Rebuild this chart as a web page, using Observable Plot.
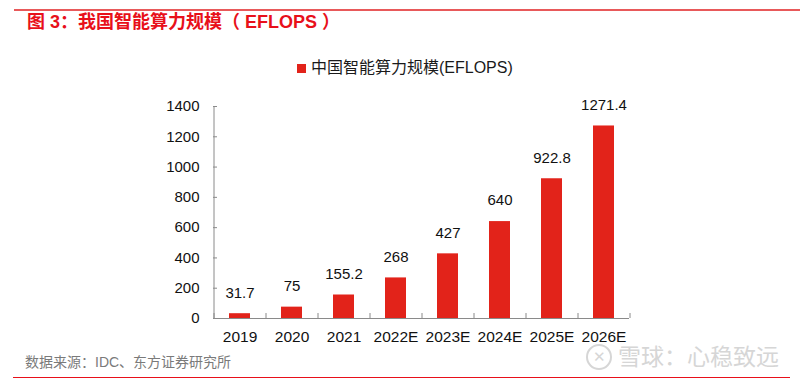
<!DOCTYPE html>
<html><head><meta charset="utf-8">
<script src="https://cdn.jsdelivr.net/npm/d3@7"></script>
<script src="https://cdn.jsdelivr.net/npm/@observablehq/plot@0.6"></script>
<style>
html,body{margin:0;padding:0;background:#fff;}
#wrap{position:relative;width:800px;height:382px;overflow:hidden;font-family:"Liberation Sans","Noto Sans CJK SC",sans-serif;}
.abs{position:absolute;white-space:nowrap;}
#topline{left:14px;top:9px;width:786px;height:2px;background:#e8595a;}
#title{left:27px;top:12px;font-size:18px;font-weight:bold;color:#e8101a;line-height:21px;}
#legend{left:297px;top:58px;font-size:16px;color:#1a1a1a;line-height:20px;display:flex;align-items:center;}
#legend span.sw{display:inline-block;width:9px;height:9px;background:#e2231a;margin-right:5px;}
#chart{left:0;top:90px;}
#source{left:25px;top:353px;font-size:14px;color:#7a7a7a;line-height:18px;}
#bottomline{left:13px;top:377px;width:777px;height:1px;background:#e8101a;}
#wm{left:586px;top:343px;font-size:23px;color:#d6d6d6;line-height:28px;display:flex;align-items:center;}
#wm .logo{display:inline-block;width:22px;height:22px;border:2px solid #d6d6d6;border-radius:50%;margin-right:6px;font-size:15px;line-height:22px;text-align:center;}
</style></head>
<body><div id="wrap">
<div class="abs" id="topline"></div>
<div class="abs" id="title">图 3：我国智能算力规模（ EFLOPS ）</div>
<div class="abs" id="legend"><span class="sw"></span><span id="legtext"></span></div>
<div class="abs" id="chart"></div>
<div class="abs" id="source">数据来源：IDC、东方证券研究所</div>
<div class="abs" id="wm"><span class="logo">✕</span>雪球：心稳致远</div>
<div class="abs" id="bottomline"></div>
</div>
<script>
const years = ["2019","2020","2021","2022E","2023E","2024E","2025E","2026E"];
const values = [31.7, 75, 155.2, 268, 427, 640, 922.8, 1271.4];
const valueLabels = ["31.7","75","155.2","268","427","640","922.8","1271.4"];
const yTicks = [0,200,400,600,800,1000,1200,1400];
const seriesName = "中国智能算力规模(EFLOPS)";

document.getElementById("legtext").textContent = seriesName;

const data = years.map((y,i)=>({year:y, value:values[i], label:valueLabels[i]}));

const W = 800, H = 260, ML = 213, MR = 171, MT = 16, MB = 32;
const step = (W - ML - MR) / years.length;
const axisColor = "#8a8a8a";

const plot = Plot.plot({
  width: W, height: H,
  marginLeft: ML, marginRight: MR, marginTop: MT, marginBottom: MB,
  style: {fontFamily: "'Liberation Sans','Noto Sans CJK SC',sans-serif", fontSize: "15px", color: "#111", background: "#fff"},
  x: {domain: years, paddingInner: 0.6, paddingOuter: 0.3, label: null},
  y: {domain: [0,1400], label: null},
  marks: [
    Plot.barY(data, {x: "year", y: "value", fill: "#e2231a"}),
    Plot.text(data, {x: "year", y: "value", text: "label", dy: -21, fontSize: 15, fill: "#111"}),
    Plot.axisY({ticks: yTicks, tickSize: 0, tickPadding: 14, fontSize: 15, fill: "#111", tickFormat: d => String(d)}),
    Plot.ruleY(yTicks, {stroke: axisColor, insetRight: W - ML - MR - 4}),
    Plot.axisX({tickSize: 0, tickPadding: 12, fontSize: 15.5, fill: "#111"}),
    Plot.ruleX(years, {x: d => d, dx: -step/2, stroke: axisColor, insetTop: H - MT - MB - 5}),
    Plot.ruleX([years[years.length-1]], {x: d => d, dx: step/2, stroke: axisColor, insetTop: H - MT - MB - 5}),
    Plot.ruleX([years[0]], {x: d => d, dx: -step/2, stroke: axisColor}),
    Plot.ruleY([0], {stroke: axisColor})
  ]
});
document.getElementById("chart").appendChild(plot);
</script>
</body></html>
